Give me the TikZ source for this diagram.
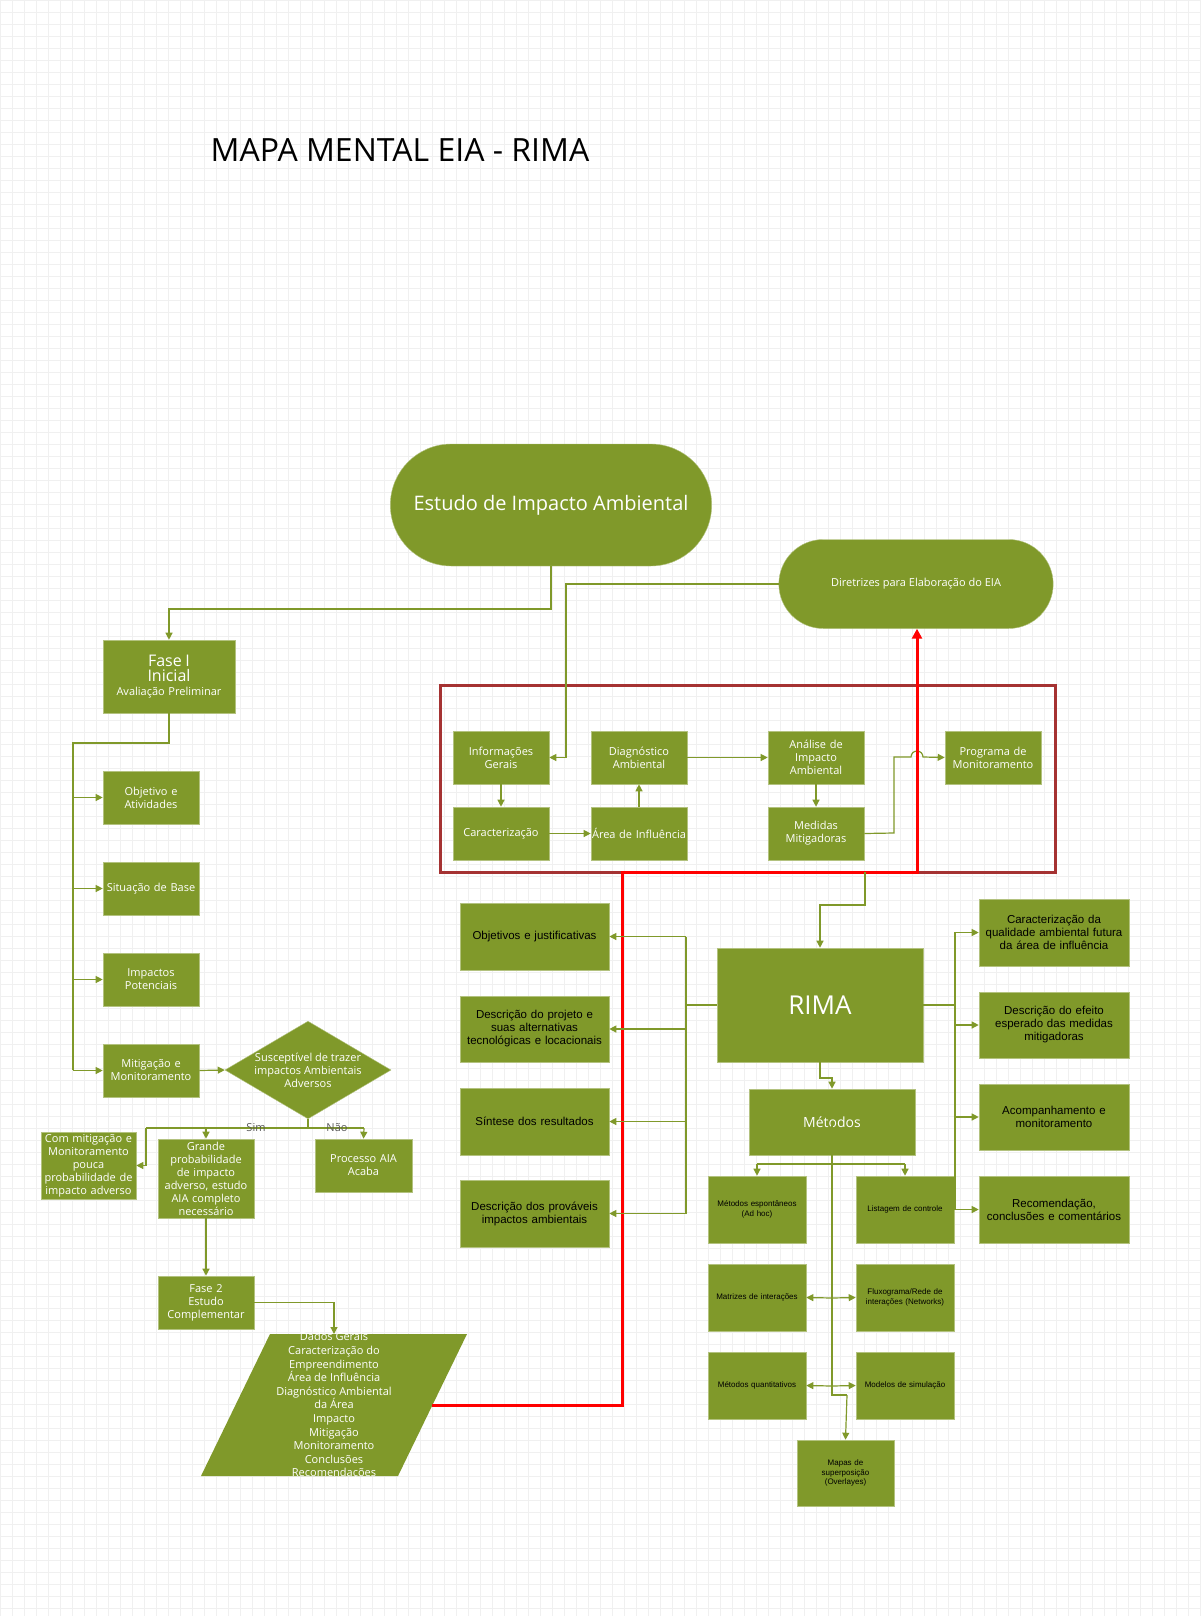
\documentclass[tikz,border=0pt]{standalone}
\usepackage{fontspec}
\setmainfont{Open Sans}
\newfontfamily\arialf{Liberation Sans}
\usetikzlibrary{shapes.geometric,shapes.misc,arrows.meta}
\definecolor{gr}{RGB}{128,153,42}
\definecolor{rbox}{RGB}{165,50,50}
\newcommand{\nohy}{\hyphenpenalty=10000\exhyphenpenalty=10000}
\tikzset{
 bx/.style={fill=gr,draw=gr!60!white,line width=0.6pt,text=white,align=center,inner sep=1pt,font=\nohy\fontsize{11}{13}\selectfont},
 ar/.style={fill=gr,draw=gr!60!white,line width=0.6pt,text=black,align=center,inner sep=2pt,font=\nohy\arialf\fontsize{11.5}{13}\selectfont},
 sm/.style={fill=gr,draw=gr!60!white,line width=0.6pt,text=black,align=center,inner sep=2pt,font=\nohy\arialf\fontsize{8}{9.5}\selectfont},
 ln/.style={draw=gr,line width=1.2pt},
 arr/.style={ln,-{Triangle[length=7pt,width=7pt]}},
 red/.style={draw=red,line width=3pt},
}
\newcommand{\bxat}[7][bx]{\node[#1,minimum width=#4pt-#3pt,minimum height=#6pt-#5pt,text width=#4pt-#3pt-2pt] (#2) at ({(#3+#4)/2},{(#5+#6)/2}) {#7};}
\begin{document}
\begin{tikzpicture}[x=1pt,y=-1pt]
\useasboundingbox (0,0) rectangle (1200,1616);
\fill[white] (0,0) rectangle (1200,1616);
\draw[gray!12,line width=0.5pt] (0,0) grid[step=12pt] (1200,1616);
\node[font=\fontsize{32}{36}\selectfont,text=black] (title) at (400,150) {MAPA MENTAL EIA - RIMA};
% stadiums
\node[fill=gr,draw=gr!60!white,text=white,rounded rectangle,minimum width=328pt,minimum height=122pt,font=\fontsize{20}{24}\selectfont] (eia) at (551,505) {Estudo de Impacto Ambiental};
\node[fill=gr,draw=gr!60!white,text=white,rounded rectangle,minimum width=281pt,minimum height=89pt,font=\fontsize{11}{13}\selectfont] (dir) at (916,584) {Diretrizes para Elaboração do EIA};
% Fase I branch
\bxat{f1}{103}{235}{640}{713}{{\fontsize{16}{20}\selectfont Fase I}\\[2pt]{\fontsize{16}{20}\selectfont Inicial}\\[1pt]Avaliação Preliminar}
\bxat{obj}{103}{199}{771}{824}{Objetivo e Atividades}
\bxat{sit}{103}{199}{862}{915}{Situação de Base}
\bxat{imp}{103}{199}{953}{1006}{Impactos Potenciais}
\bxat{mit}{103}{199}{1044}{1097}{Mitigação e Monitoramento}
\node[diamond,fill=gr,draw=gr!60!white,text=white,minimum width=164pt,minimum height=97pt,aspect=1.7,inner sep=0pt,align=center,font=\fontsize{11}{13}\selectfont] (dia) at (308,1070) {Susceptível de trazer\\impactos Ambientais\\Adversos};
\bxat{com}{41}{136}{1132}{1199}{Com mitigação e Monitoramento pouca probabilidade de impacto adverso}
\bxat{gra}{158}{254}{1139}{1218}{Grande probabilidade de impacto adverso, estudo AIA completo necessário}
\bxat{pro}{315}{412}{1139}{1192}{Processo AIA\\Acaba}
\bxat{f2}{158}{254}{1276}{1329}{Fase 2\\Estudo\\Complementar}
\fill[gr] (270,1334) -- (467,1334) -- (398,1476) -- (201,1476) -- cycle;
\node[text=white,align=center,font=\fontsize{11}{13.6}\selectfont] (par) at (334,1406) {Dados Gerais\\Caracterização do\\Empreendimento\\Área de Influência\\Diagnóstico Ambiental\\da Área\\Impacto\\Mitigação\\Monitoramento\\Conclusões\\Recomendações};
\coordinate (parR) at (432,1405);
\coordinate (parT) at (334,1334);
% red frame
\draw[rbox,line width=3pt] (440,685) rectangle (1055,872);
\coordinate (frB) at (865,872);
\bxat{inf}{453}{549}{731}{784}{Informações Gerais}
\bxat{dia2}{591}{687}{731}{784}{Diagnóstico Ambiental}
\bxat{ana}{768}{864}{731}{784}{Análise de\\Impacto\\Ambiental}
\bxat{prg}{945}{1041}{731}{784}{Programa de Monitoramento}
\bxat{car}{453}{549}{807}{860}{Caracterização}
\bxat{are}{591}{687}{807}{860}{Área de Influência}
\bxat{med}{768}{864}{807}{860}{Medidas\\Mitigadoras}
% RIMA
\node[bx,minimum width=206pt,minimum height=114pt,font=\fontsize{26}{30}\selectfont] (rima) at (820,1005) {RIMA};
\node[bx,minimum width=166pt,minimum height=66pt,font=\fontsize{14}{16}\selectfont] (met) at (832,1122) {Métodos};
\bxat[ar]{r1}{461}{608}{903}{970}{Objetivos e justificativas}
\bxat[ar]{r2}{461}{608}{996}{1062}{Descrição do projeto e\\suas alternativas\\tecnológicas e locacionais}
\bxat[ar]{r3}{461}{608}{1088}{1155}{Síntese dos resultados}
\bxat[ar]{r4}{461}{608}{1180}{1247}{Descrição dos prováveis\\impactos ambientais}
\bxat[ar]{q1}{980}{1128}{899}{966}{Caracterização da\\qualidade ambiental futura\\da área de influência}
\bxat[ar]{q2}{980}{1128}{992}{1058}{Descrição do efeito\\esperado das medidas\\mitigadoras}
\bxat[ar]{q3}{980}{1128}{1084}{1150}{Acompanhamento e\\monitoramento}
\bxat[ar]{q4}{980}{1128}{1176}{1243}{Recomendação,\\conclusões e comentários}
\bxat[sm]{m1}{709}{805}{1176}{1243}{Métodos espontâneos\\(Ad hoc)}
\bxat[sm]{m2}{857}{953}{1176}{1243}{Listagem de controle}
\bxat[sm]{m3}{709}{805}{1264}{1331}{Matrizes de interações}
\bxat[sm]{m4}{857}{953}{1264}{1331}{Fluxograma/Rede de\\interações (Networks)}
\bxat[sm]{m5}{709}{805}{1352}{1419}{Métodos quantitativos}
\bxat[sm]{m6}{857}{953}{1352}{1419}{Modelos de simulação}
\bxat[sm]{m7}{798}{893}{1440}{1506}{Mapas de\\superposição\\(Overlayes)}
% connectors
\draw[arr] (eia.south) |- (169,609) -- (f1.north);
\draw[arr] (dir.west) -- (566,584) |- (inf.east);
\draw[ln] (f1.south) -- (169,743) -| (73,1070);
\foreach \n in {obj,sit,imp,mit} \draw[arr] (73,0 |- \n.west) -- (\n.west);
\draw[arr] (mit.east) -- (dia.west);
\draw[ln] (dia.south) -- (308,1128);
\draw[ln] (146,1128) -- (364,1128);
\draw[arr] (206,1128) -- (gra.north);
\draw[arr] (364,1128) -- (pro.north);
\draw[arr] (146,1128) |- (com.east);
\node[text=gray!70!black,font=\fontsize{11}{12}\selectfont,inner sep=0pt] (sim) at (256,1128) {Sim};
\node[text=gray!70!black,font=\fontsize{11}{12}\selectfont,inner sep=0pt] (nao) at (337,1128) {Não};
\draw[arr] (gra.south) -- (f2.north);
\draw[arr] (f2.east) -| (parT);
\draw[arr] (inf.south) -- (car.north);
\draw[arr] (car.east) -- (are.west);
\draw[arr] (are.north) -- (dia2.south);
\draw[arr] (dia2.east) -- (ana.west);
\draw[arr] (ana.south) -- (med.north);
\draw[arr] (med.east) -- (894,833) -- (894,757) -- (911,757) arc[start angle=180,end angle=0,radius=6pt] -- (prg.west);
\draw[red,-{Triangle[length=10pt,width=10pt]}] (parR) -- (622,1405) -- (622,872) -- (917,872) -- (dir.south -| 917,0);
\draw[arr] (frB) -- (865,905) -- (820,905) -- (rima.north);
\draw[ln] (rima.west) -- (686,1005);
\draw[ln] (686,937) -- (686,1214);
\foreach \n in {r1,r2,r3,r4} \draw[arr] (686,0 |- \n.east) -- (\n.east);
\draw[ln] (rima.east) -- (955,1005);
\draw[ln] (955,932) -- (955,1210);
\foreach \n in {q1,q2,q3,q4} \draw[arr] (955,0 |- \n.west) -- (\n.west);
\draw[arr] (rima.south) -- (820,1078) -- (832,1078) -- (met.north);
\draw[ln] (met.center) -- (832,1395) -- (847,1395);
\draw[arr] (847,1395) -- (m7.north);
\draw[ln] (757,1164) -- (905,1164);
\draw[arr] (757,1164) -- (m1.north);
\draw[arr] (905,1164) -- (m2.north);
\draw[arr] (832,1298) -- (m3.east);
\draw[arr] (832,1298) -- (m4.west);
\draw[arr] (832,1386) -- (m5.east);
\draw[arr] (832,1386) -- (m6.west);
\end{tikzpicture}
\end{document}
